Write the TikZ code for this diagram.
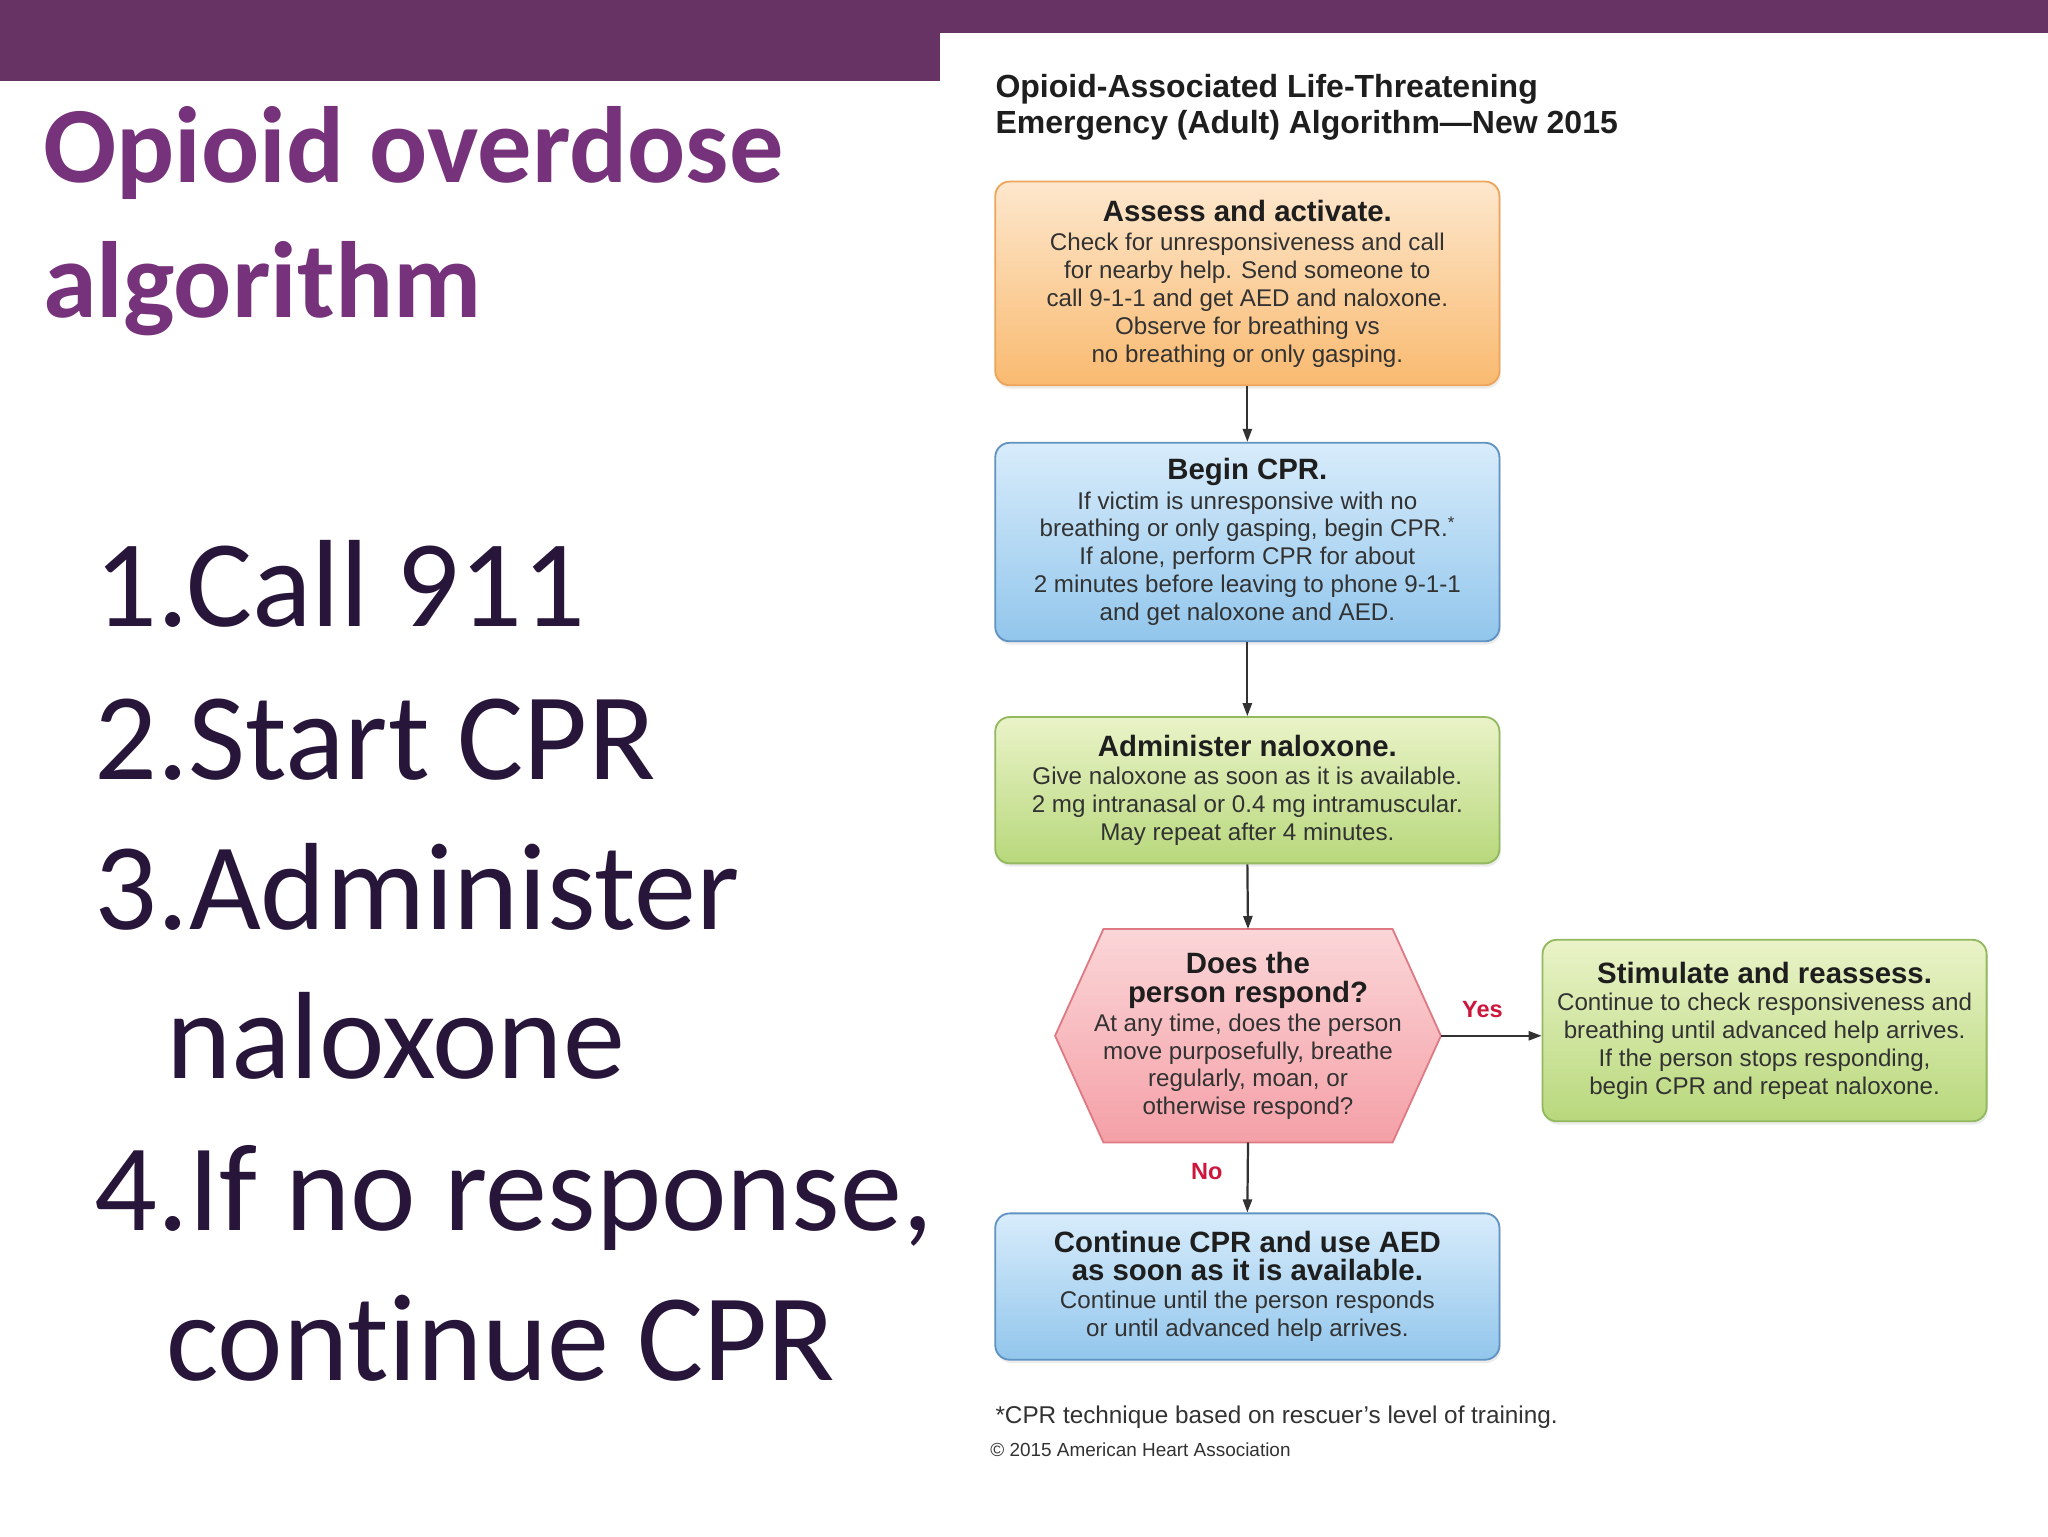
\documentclass[tikz,border=0pt]{standalone}
\usepackage{fontspec}
\newfontfamily\calfont[Ligatures=NoCommon,Contextuals=NoAlternate]{Carlito}
\newfontfamily\flowfont{Liberation Sans}
\usetikzlibrary{arrows.meta,backgrounds,shadows}
\definecolor{barpurple}{RGB}{103,51,100}
\definecolor{titlepurple}{RGB}{118,50,122}
\definecolor{listtxt}{RGB}{40,22,58}
\definecolor{headtxt}{RGB}{30,30,30}
\definecolor{bodytxt}{RGB}{50,50,50}
\definecolor{ortop}{RGB}{253,231,205}
\definecolor{orbot}{RGB}{249,186,112}
\definecolor{orline}{RGB}{236,165,90}
\definecolor{bltop}{RGB}{216,236,251}
\definecolor{blbot}{RGB}{146,198,236}
\definecolor{blline}{RGB}{96,146,194}
\definecolor{grtop}{RGB}{234,243,200}
\definecolor{grbot}{RGB}{184,216,124}
\definecolor{grline}{RGB}{146,184,96}
\definecolor{pktop}{RGB}{251,214,216}
\definecolor{pkbot}{RGB}{244,160,167}
\definecolor{pkline}{RGB}{222,122,132}
\definecolor{yesred}{RGB}{204,22,60}
\definecolor{arrowgray}{RGB}{50,50,50}
\newcommand\boxhead[1]{{\fontsize{22.5}{21.3}\selectfont\bfseries\color{headtxt}#1}}
\tikzset{
  fbox/.style={rounded corners=11pt, line width=1.4pt, minimum width=386pt, align=center, inner sep=0pt,
    font=\flowfont\fontsize{18.5}{21.3}\selectfont, text=bodytxt,
    drop shadow={shadow xshift=1pt, shadow yshift=-2.5pt, opacity=0.15}},
  orbox/.style={fbox, draw=orline, top color=ortop, bottom color=orbot},
  bluebox/.style={fbox, draw=blline, top color=bltop, bottom color=blbot},
  grbox/.style={fbox, draw=grline, top color=grtop, bottom color=grbot},
  arr/.style={draw=arrowgray, line width=1.7pt, -{Triangle[length=10pt,width=7pt]}},
  lbl/.style={font=\flowfont\bfseries\fontsize{18}{20}\selectfont, text=yesred, inner sep=0pt},
  bigtitle/.style={anchor=base west, inner sep=0pt, font=\calfont\bfseries\fontsize{83}{100}\selectfont, text=titlepurple},
  listtext/.style={anchor=base west, inner sep=0pt, font=\calfont\fontsize{95}{115}\selectfont, text=listtxt},
  ftitle/.style={anchor=base west, inner sep=0pt, font=\flowfont\bfseries\fontsize{24.5}{27.5}\selectfont, text=headtxt},
}
\begin{document}
\begin{tikzpicture}[x=1pt,y=-1pt]
\useasboundingbox (0,0) rectangle (1568,1176);
\begin{scope}[on background layer]
  \fill[white] (0,0) rectangle (1568,1176);
\end{scope}
% top bar
\fill[barpurple] (0,0) rectangle (1568,25);
\fill[barpurple] (0,0) rectangle (720,62);
% slide title
\node[bigtitle] (t1) at (33,140) {Opioid overdose};
\node[bigtitle] (t2) at (33,243) {algorithm};
% list
\node[listtext] (l1) at (72,480) {1.Call 911};
\node[listtext] (l2) at (72,597) {2.Start CPR};
\node[listtext] (l3) at (72,712) {3.Administer};
\node[listtext] (l3b) at (127,826) {naloxone};
\node[listtext] (l4) at (72,942) {4.If no response,};
\node[listtext] (l4b) at (127,1057) {cont\kern0pt inue CPR};
% flowchart title
\node[ftitle] (ft1) at (762,75) {Opioid-Associated Life-Threatening};
\node[ftitle] (ft2) at (762,102) {Emergency (Adult) Algorithm—New 2015};
% boxes
\node[orbox, minimum height=156pt] (b1) at (955,217) {\boxhead{Assess and activate.}\\[1.5pt]
Check for unresponsiveness and call\\
for nearby help. Send someone to\\
call 9-1-1 and get AED and naloxone.\\
Observe for breathing vs\\
no breathing or only gasping.};
\node[bluebox, minimum height=152pt] (b2) at (955,415) {\boxhead{Begin CPR.}\\[1pt]
If victim is unresponsive with no\\
breathing or only gasping, begin CPR.\textsuperscript{*}\\
If alone, perform CPR for about\\
2 minutes before leaving to phone 9-1-1\\
and get naloxone and AED.};
\node[grbox, minimum height=112pt] (b3) at (955,605) {\boxhead{Administer naloxone.}\\
Give naloxone as soon as it is available.\\
2 mg intranasal or 0.4 mg intramuscular.\\
May repeat after 4 minutes.};
\node[align=center, inner sep=0pt, minimum width=295pt, minimum height=163pt,
  font=\flowfont\fontsize{18.5}{21.3}\selectfont, text=bodytxt] (hex) at (955.5,793)
  {\boxhead{Does the}\\[1pt]\boxhead{person respond?}\\[1pt]
At any time, does the person\\
move purposefully, breathe\\
regularly, moan, or\\
otherwise respond?};
\begin{scope}[on background layer]
\shade[top color=pktop, bottom color=pkbot, draw=pkline, line width=1.4pt]
  (hex.west) -- ([xshift=37pt]hex.north west) -- ([xshift=-37pt]hex.north east) -- (hex.east)
  -- ([xshift=-37pt]hex.south east) -- ([xshift=37pt]hex.south west) -- cycle;
\end{scope}
\node[grbox, minimum width=340pt, minimum height=139pt] (b5) at (1351,789) {\boxhead{Stimulate and reassess.}\\
Continue to check responsiveness and\\
breathing until advanced help arrives.\\
If the person stops responding,\\
begin CPR and repeat naloxone.};
\node[bluebox, minimum height=112pt] (b6) at (955,985) {\boxhead{Continue CPR and use AED}\\
\boxhead{as soon as it is available.}\\
Continue until the person responds\\
or until advanced help arrives.};
% connectors
\draw[arr] (b1.south) -- (b2.north);
\draw[arr] (b2.south) -- (b3.north);
\draw[arr] (b3.south) -- (hex.north);
\draw[arr] (hex.east) -- (hex.east -| b5.west);
\draw[arr] (hex.south) -- (b6.north);
\node[lbl] (yes) at (1135,773) {Yes};
\node[lbl] (no) at (924,897) {No};
% footnotes
\node[anchor=base west, inner sep=0pt, font=\flowfont\fontsize{18.6}{21}\selectfont, text=bodytxt] (fn) at (762,1090) {*CPR technique based on rescuer’s level of training.};
\node[anchor=base west, inner sep=0pt, font=\flowfont\fontsize{14.5}{17}\selectfont, text=bodytxt] (cp) at (758,1115) {© 2015 American Heart Association};
\end{tikzpicture}
\end{document}
